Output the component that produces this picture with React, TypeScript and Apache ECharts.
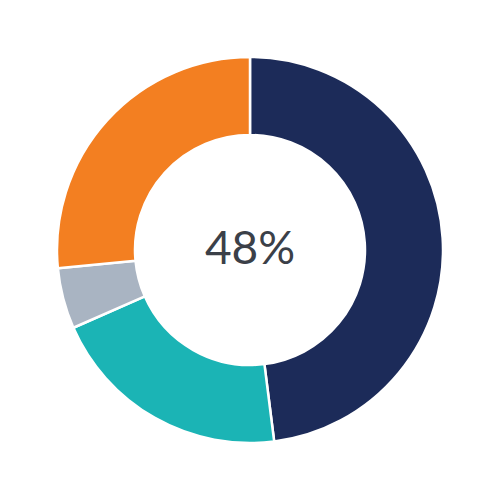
import React, {useRef, useEffect} from 'react';
import * as echarts from 'echarts';

const categories = ['A', 'B', 'C', 'D'];
const values = [48, 20.4, 5.1, 26.5];
const colors = ['#1c2b59', '#1bb4b5', '#a9b4c2', '#f37f21'];
const centerLabel = '48%';

const App = () => {
    const ref = useRef<HTMLDivElement>(null);

    useEffect(() => {
        const chart = echarts.init(ref.current as HTMLDivElement, undefined, {renderer: 'svg'});
        chart.setOption({
            animation: false,
            graphic: [
                {
                    type: 'text',
                    x: 242,
                    y: 238,
                    style: {
                        text: centerLabel,
                        fontSize: 46,
                        fontFamily: 'Lato',
                        fontWeight: 400,
                        fill: '#3b4048',
                        textAlign: 'center',
                        textVerticalAlign: 'middle'
                    }
                }
            ],
            series: [
                {
                    type: 'pie',
                    center: [242, 242],
                    radius: [115, 193],
                    startAngle: 90,
                    clockwise: true,
                    label: {show: false},
                    labelLine: {show: false},
                    emphasis: {disabled: true},
                    itemStyle: {borderColor: '#fff', borderWidth: 2.5},
                    data: categories.map((name, i) => ({
                        name,
                        value: values[i],
                        itemStyle: {color: colors[i]}
                    }))
                }
            ]
        });
        return () => chart.dispose();
    }, []);

    return <div ref={ref} style={{width: 500, height: 500}}></div>;
};

export default App;
